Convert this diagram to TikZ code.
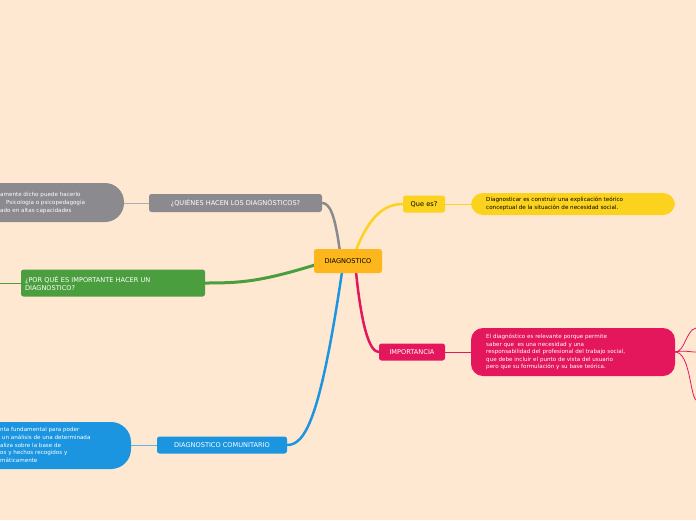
\documentclass[tikz,border=0pt]{standalone}
\usepackage{fontspec}
\setmainfont{DejaVu Sans}
\definecolor{bg}{HTML}{FFE8D2}
\definecolor{cor}{HTML}{FDB61C}
\definecolor{cye}{HTML}{FBD21E}
\definecolor{cpk}{HTML}{E5175C}
\definecolor{cgy}{HTML}{8B8A8E}
\definecolor{cgr}{HTML}{4A9E3E}
\definecolor{cbl}{HTML}{1B95E0}
\begin{document}
\begin{tikzpicture}[x=1pt,y=-1pt,
  box/.style={rounded corners=2.5pt,inner sep=0pt,font=\fontsize{6.6}{8}\selectfont},
  desc/.style={rounded corners=12pt,inner sep=0pt},
  txt/.style={align=left,inner sep=0pt,font=\fontsize{5.6}{7.6}\selectfont},
  link/.style={line width=1pt}]
\useasboundingbox (0,0) rectangle (696,520);
\clip (0,0) rectangle (696,520);
\fill[bg] (0,0) rectangle (696,520);
% branch lines
\draw[cgy,line width=2.5pt] (340,252) .. controls (335,215) and (330,203) .. (322,203);
\draw[cgr,line width=3pt] (318,264) .. controls (260,282) and (240,283) .. (205,283);
\draw[cbl,line width=2.5pt] (342,272) .. controls (320,420) and (305,445) .. (287,445);
\draw[cye,line width=2.5pt] (356,250) .. controls (370,215) and (385,204) .. (403,204);
\draw[cpk,line width=2.5pt] (356,272) .. controls (362,330) and (370,352) .. (379,352);
% nodes
\node[box,fill=cor,minimum width=68,minimum height=24] (c) at (348,261) {DIAGNOSTICO};
\node[box,fill=cye,minimum width=42,minimum height=17] (q) at (424,204) {Que es?};
\node[desc,fill=cye,minimum width=204,minimum height=22] (qd) at (573,204) {};
\node[txt,anchor=west] at (486,204) {Diagnosticar es construir una explicación teórico\\conceptual de la situación de necesidad social.};
\node[box,fill=cpk,text=white,minimum width=66,minimum height=17] (i) at (412,352) {IMPORTANCIA};
\node[desc,fill=cpk,minimum width=204,minimum height=48] (id) at (573,352) {};
\node[txt,anchor=west,text=white] at (486,352) {El diagnóstico es relevante porque permite\\saber que~ es una necesidad y una\\responsabilidad del profesional del trabajo social,\\que debe incluir el punto de vista del usuario\\pero que su formulación y su base teórica.};
\node[box,fill=cgy,text=white,minimum width=173,minimum height=18] (w) at (235.5,203) {¿QUIÉNES HACEN LOS DIAGNÓSTICOS?};
\node[desc,fill=cgy,minimum width=174,minimum height=39,rounded corners=19pt] (wd) at (37,202.5) {};
\node[txt,anchor=west,text=white] at (0,203) {amente dicho puede hacerlo\\\hspace*{6pt}Psicología o psicopedagogía\\ado en altas capacidades};
\node[box,fill=cgr,text=white,minimum width=184,minimum height=27,align=left,text width=176] (g) at (113,283) {¿POR QUÉ ES IMPORTANTE HACER UN\\DIAGNOSTICO?};
\node[box,fill=cbl,text=white,minimum width=130,minimum height=17] (b) at (222,445) {DIAGNOSTICO COMUNITARIO};
\node[desc,fill=cbl,minimum width=174,minimum height=47,rounded corners=20pt] (bd) at (44,445.5) {};
\node[txt,anchor=west,text=white] at (0,445) {nta fundamental para poder\\\hspace*{0pt} un análisis de una determinada\\aliza sobre la base de\\os y hechos recogidos y\\máticamente};
% thin links
\draw[link,cye] (q.east) -- (qd.west);
\draw[link,cpk] (i.east) -- (id.west);
\draw[link,cgy!70] (w.west) -- (124,203);
\draw[link,cbl!70] (b.west) -- (131,445);
\draw[link,cgr] (g.west) -- (0,283);
\coordinate (p1) at (696,328);
\coordinate (p2) at (696,352);
\coordinate (p3) at (696,400);
\draw[cpk,line width=0.8pt] (675,352) .. controls (685,352) and (686,330) .. (p1);
\draw[cpk,line width=0.8pt] (675,352) .. controls (685,350) and (688,352) .. (p2);
\draw[cpk,line width=0.8pt] (675,352) .. controls (690,352) and (690,395) .. (p3);
\end{tikzpicture}
\end{document}
